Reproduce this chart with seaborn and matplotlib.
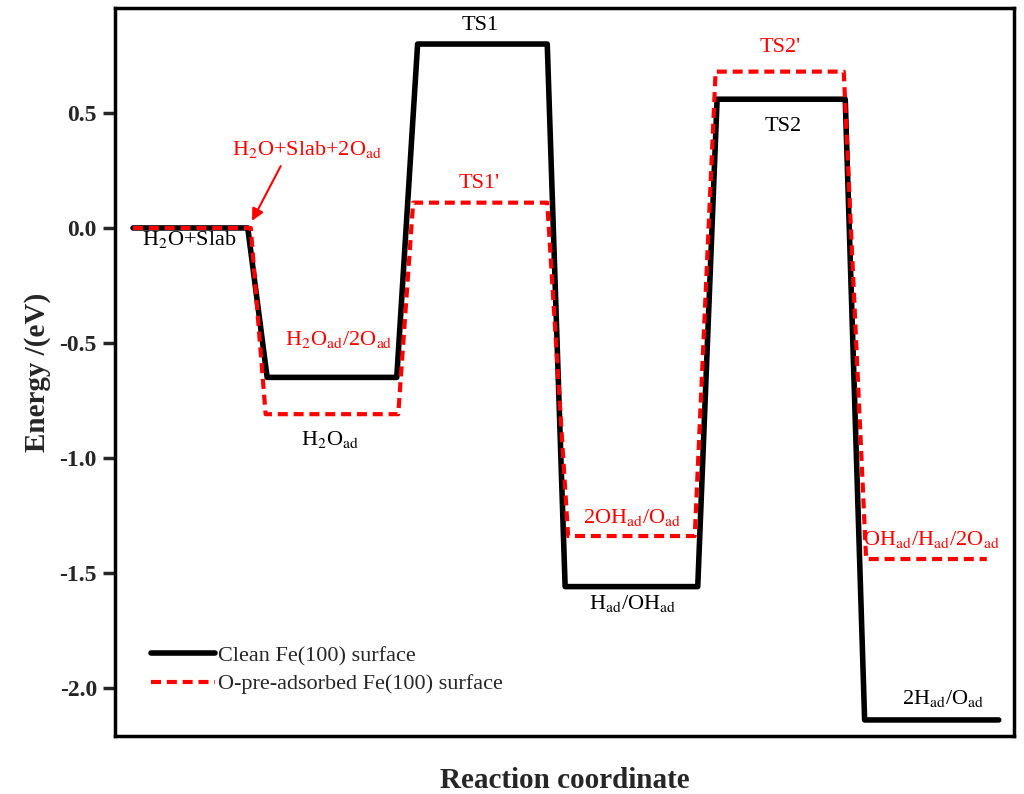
import numpy as np
import pandas as pd
import seaborn as sns
import matplotlib.pyplot as plt

# plateau edges along the reaction coordinate and energies (eV)
clean_left = [0.00, 0.90, 1.91, 2.90, 3.92, 4.91]
clean_right = [0.77, 1.77, 2.78, 3.79, 4.78, 5.81]
clean_energy = [0.00, -0.65, 0.80, -1.56, 0.56, -2.14]

opre_left = [0.00, 0.89, 1.88, 2.92, 3.91, 4.92]
opre_right = [0.79, 1.78, 2.78, 3.77, 4.77, 5.73]
opre_energy = [0.00, -0.81, 0.11, -1.34, 0.68, -1.44]


def profile(left, right, energy):
    xs, ys = [], []
    for l, r, e in zip(left, right, energy):
        xs += [l, r]
        ys += [e, e]
    return pd.DataFrame({'x': xs, 'y': ys})


def sub(s):
    return r'$_{\mathrm{%s}}$' % s


clean_df = profile(clean_left, clean_right, clean_energy)
opre_df = profile(opre_left, opre_right, opre_energy)

sns.set_style('ticks')
plt.rcParams['font.family'] = ['Liberation Serif', 'DejaVu Serif']
plt.rcParams['mathtext.fontset'] = 'stix'

red = '#ff0000'
fs = 16

fig = plt.figure(figsize=(10.24, 7.94), dpi=100)
ax = fig.add_axes([0.1123, 0.073, 0.878, 0.917])

sns.lineplot(data=clean_df, x='x', y='y', sort=False, estimator=None, ax=ax,
             color='black', linewidth=4.0, label='Clean Fe(100) surface')
sns.lineplot(data=opre_df, x='x', y='y', sort=False, estimator=None, ax=ax,
             color=red, linewidth=3.0, linestyle=(0, (2.4, 1.4)),
             label='O-pre-adsorbed Fe(100) surface')

ax.set_xlim(-0.121, 5.913)
ax.set_ylim(-2.21, 0.957)
ax.set_xticks([])
ax.set_yticks([-2.0, -1.5, -1.0, -0.5, 0.0, 0.5])
ax.set_yticklabels(['-2.0', '-1.5', '-1.0', '-0.5', '0.0', '0.5'],
                   fontweight='bold', fontsize=17)
ax.tick_params(axis='y', direction='out', length=9, width=2.5, pad=4)
for s in ax.spines.values():
    s.set_linewidth(2.5)
    s.set_color('black')

ax.set_xlabel('Reaction coordinate', fontsize=21, fontweight='bold', labelpad=22)
ax.set_ylabel('Energy /(eV)', fontsize=21, fontweight='bold', labelpad=6)

labels = [
    (0.38, -0.05, 'H' + sub('2') + 'O+Slab', 'black'),
    (1.17, 0.34, 'H' + sub('2') + 'O+Slab+2O' + sub('ad'), red),
    (1.38, -0.486, 'H' + sub('2') + 'O' + sub('ad') + '/2O' + sub('ad'), red),
    (1.32, -0.92, 'H' + sub('2') + 'O' + sub('ad'), 'black'),
    (2.33, 0.88, 'TS1', 'black'),
    (2.32, 0.195, "TS1'", red),
    (4.34, 0.785, "TS2'", red),
    (4.36, 0.44, 'TS2', 'black'),
    (3.35, -1.258, '2OH' + sub('ad') + '/O' + sub('ad'), red),
    (3.35, -1.635, 'H' + sub('ad') + '/OH' + sub('ad'), 'black'),
    (5.36, -1.353, 'OH' + sub('ad') + '/H' + sub('ad') + '/2O' + sub('ad'), red),
    (5.44, -2.047, '2H' + sub('ad') + '/O' + sub('ad'), 'black'),
]
for x, y, t, c in labels:
    ax.text(x, y, t, color=c, fontsize=fs, ha='center', va='center')

ax.annotate('', xy=(0.79, 0.02), xytext=(1.0, 0.28),
            arrowprops=dict(arrowstyle='-|>', color=red, lw=1.5,
                            mutation_scale=18))

ax.legend(loc='lower left', bbox_to_anchor=(0.03, 0.045), frameon=False,
          fontsize=fs, handlelength=2.9, handletextpad=0.1, labelspacing=0.35,
          borderaxespad=0)

plt.savefig('out.png', dpi=100)
